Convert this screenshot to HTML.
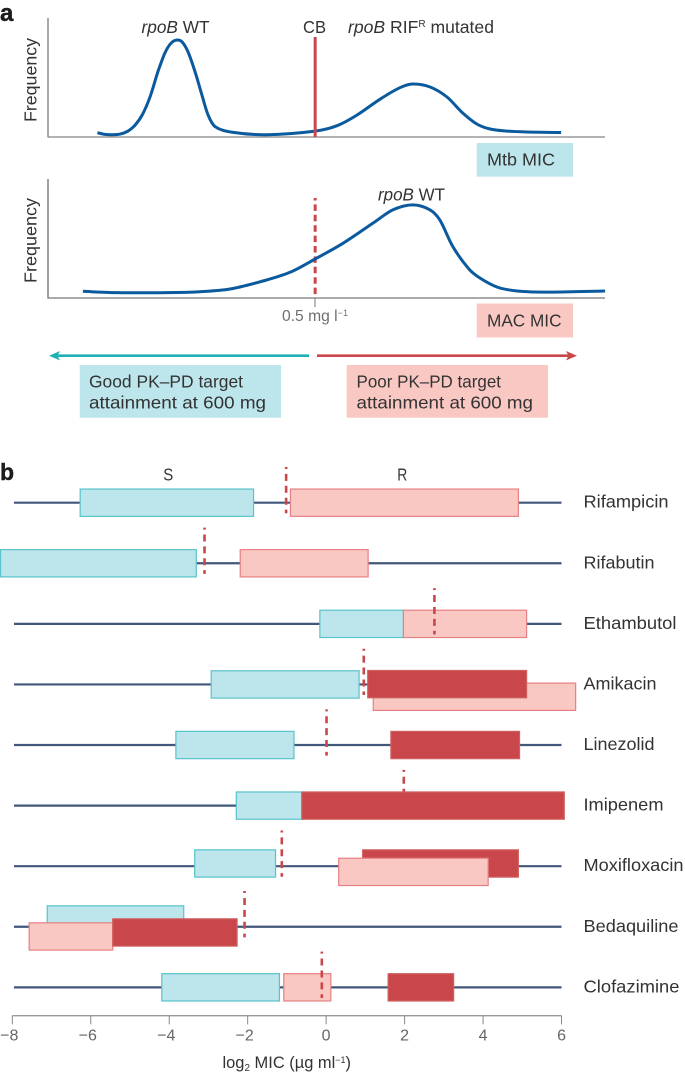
<!DOCTYPE html>
<html lang="en">
<head>
<meta charset="utf-8">
<title>MIC distributions and PK-PD target attainment</title>
<style>
  html, body { margin: 0; padding: 0; background: #fff; }
  svg { display: block; font-family: "Liberation Sans", sans-serif; }
  text { fill: #333; font-size: 17.5px; }
</style>
</head>
<body>
<svg id="chart" width="685" height="1078" viewBox="0 0 685 1078" xmlns="http://www.w3.org/2000/svg">
  <rect width="685" height="1078" fill="#fff"/>

  <text x="0" y="21" style="font-size:24px;font-weight:bold;fill:#1c1c1c;stroke:#1c1c1c;stroke-width:0.4">a</text>
  <text x="0" y="480" style="font-size:23px;font-weight:bold;fill:#1c1c1c;stroke:#1c1c1c;stroke-width:0.4">b</text>

  <g stroke="#858585" fill="none">
    <line x1="48" y1="18" x2="48" y2="137.5" stroke-width="1.4"/>
    <line x1="48" y1="137" x2="605" y2="137" stroke-width="1.2"/>
  </g>
  <g stroke="#777" fill="none">
    <line x1="48" y1="179" x2="48" y2="298.5" stroke-width="1.4"/>
    <line x1="48" y1="298" x2="605" y2="298" stroke-width="1.2"/>
    <line x1="315" y1="298" x2="315" y2="307" stroke-width="1"/>
  </g>

  <text transform="translate(36.5,122) rotate(-90)" textLength="84" lengthAdjust="spacingAndGlyphs">Frequency</text>
  <text transform="translate(36.5,283) rotate(-90)" textLength="85" lengthAdjust="spacingAndGlyphs">Frequency</text>

  <text x="141.5" y="33" textLength="68" lengthAdjust="spacingAndGlyphs"><tspan font-style="italic">rpoB</tspan> WT</text>
  <text x="303" y="33" textLength="23" lengthAdjust="spacingAndGlyphs">CB</text>
  <text x="348" y="33" textLength="146" lengthAdjust="spacingAndGlyphs"><tspan font-style="italic">rpoB</tspan> RIF<tspan dy="-6" style="font-size:10px">R</tspan><tspan dy="6"> mutated</tspan></text>
  <text x="378" y="200.7" textLength="67" lengthAdjust="spacingAndGlyphs"><tspan font-style="italic">rpoB</tspan> WT</text>

  <rect x="476.7" y="143" width="96.3" height="33.7" fill="#bde5ec"/>
  <text x="487" y="165.7" textLength="68" lengthAdjust="spacingAndGlyphs">Mtb MIC</text>
  <rect x="476.7" y="303.5" width="96.3" height="34" fill="#fac8c3"/>
  <text x="487" y="326.7" textLength="74.5" lengthAdjust="spacingAndGlyphs">MAC MIC</text>
  <text x="282" y="321" textLength="66" lengthAdjust="spacingAndGlyphs" style="font-size:15.5px;fill:#6f6f6f">0.5 mg l<tspan dy="-5" style="font-size:9px">−1</tspan></text>

  <g>
    <line x1="309" y1="355.7" x2="56" y2="355.7" stroke="#1fb0b4" stroke-width="2.6"/>
    <polygon points="49,355.7 60,351 57.5,355.7 60,360.4" fill="#1fb0b4"/>
  </g>
  <g>
    <line x1="317" y1="355.7" x2="570" y2="355.7" stroke="#c9474b" stroke-width="2.6"/>
    <polygon points="577,355.7 566,351 568.5,355.7 566,360.4" fill="#c9474b"/>
  </g>

  <rect x="79.7" y="365" width="201.3" height="52.7" fill="#bde5ec"/>
  <text x="89" y="387.7" textLength="154" lengthAdjust="spacingAndGlyphs">Good PK–PD target</text>
  <text x="89" y="408.3" textLength="177" lengthAdjust="spacingAndGlyphs">attainment at 600 mg</text>
  <rect x="346.7" y="365" width="201.3" height="52.7" fill="#fac8c3"/>
  <text x="356.5" y="387.7" textLength="144.5" lengthAdjust="spacingAndGlyphs">Poor PK–PD target</text>
  <text x="356.5" y="408.3" textLength="176.5" lengthAdjust="spacingAndGlyphs">attainment at 600 mg</text>

  <text x="163.3" y="480.7" textLength="10" lengthAdjust="spacingAndGlyphs">S</text>
  <text x="397.3" y="480.7" textLength="10" lengthAdjust="spacingAndGlyphs">R</text>

  <text x="222.5" y="1068" textLength="128.5" lengthAdjust="spacingAndGlyphs" style="font-size:16.5px">log<tspan dy="3" style="font-size:10px">2</tspan><tspan dy="-3"> MIC (µg ml</tspan><tspan dy="-5" style="font-size:9px">−1</tspan><tspan dy="5">)</tspan></text>

  <g id="curves"></g>
  <g id="rows"></g>
  <g id="xaxis"></g>
</svg>

<script>
// Panel a: frequency curves (x in log2 MIC, y in % of axis height)
const mtbMic = [-5.83,-5.64,-5.43,-5.25,-5.05,-4.87,-4.69,-4.49,-4.29,-4.11,-3.95,-3.80,-3.67,-3.52,-3.34,-3.16,-3.01,-2.83,-2.37,-1.51,-0.28,0.28,0.79,1.37,1.88,2.21,2.65,3.08,3.48,3.84,4.18,4.61,5.12,5.99];
const mtbFreq = [3.6,2.2,1.9,2.4,5,10,18.5,33.6,54.6,70.6,79,81.5,79.8,71.4,54.6,34.5,18.5,8.7,3.9,1.9,5,9.5,18.5,31.7,41.4,44.5,42,33.6,20.2,10.9,6.7,5,4.2,3.8];
const macMic = [-6.2,-5.33,-4.06,-3.22,-2.45,-1.61,-0.92,-0.28,0.43,1.19,1.70,2.21,2.65,2.90,3.23,3.64,3.92,4.36,4.87,5.63,7.11];
const macFreq = [5.6,4.5,4.5,5.3,7.6,14.3,21.6,32.8,46,62.8,74,78.2,74,65.5,43.1,24.4,16.8,9.2,5.9,5,5.9];
const mtbBreakpoint = -0.28;
const macBreakpoint = -0.28;

// Panel b: ranges in log2 MIC for each drug
const drugs = ["Rifampicin","Rifabutin","Ethambutol","Amikacin","Linezolid","Imipenem","Moxifloxacin","Bedaquiline","Clofazimine"];
const susceptibleLow = [-6.27,-8.30,-0.16,-2.93,-3.83,-2.29,-3.35,-7.11,-4.19];
const susceptibleHigh = [-1.85,-3.31,1.97,0.84,-0.82,-0.62,-1.29,-3.63,-1.19];
const resistantLow = [-0.91,-2.19,1.97,1.20,null,null,0.32,-7.57,-1.08];
const resistantHigh = [4.90,1.07,5.11,6.36,null,null,4.13,-5.44,0.12];
const clinicalLow = [null,null,null,1.06,1.65,-0.62,0.93,-5.44,1.58];
const clinicalHigh = [null,null,null,5.11,4.93,6.07,4.90,-2.27,3.25];
const breakpoints = [-1.02,-3.10,2.76,0.96,0.01,1.98,-1.13,-2.08,-0.11];
const xTicks = [-8,-6,-4,-2,0,2,4,6];

// Layout (not data)
const NS = "http://www.w3.org/2000/svg";
const x = v => 12.3 + (v + 8) * 39.23;
const yMtb = f => 137 - f * 1.19;
const yMac = f => 298 - f * 1.19;
const rowY = i => 502.7 + i * 60.58;
const labelWidths = {Rifampicin:85,Rifabutin:71,Ethambutol:93,Amikacin:73,Linezolid:71,Imipenem:80,Moxifloxacin:100,Bedaquiline:95,Clofazimine:96};
const nudgeS = {Moxifloxacin:-2.7,Bedaquiline:-7.3};
const nudgeR = {Amikacin:12.3,Moxifloxacin:5.7,Bedaquiline:9.7};
const nudgeC = {Amikacin:-0.3,Moxifloxacin:-2.7,Bedaquiline:5.7};

function svgEl(tag, attrs, parent) {
  const el = document.createElementNS(NS, tag);
  for (const k in attrs) el.setAttribute(k, attrs[k]);
  parent.appendChild(el);
  return el;
}

// Smooth curve through the points, with tangents that respect uneven x spacing
function smoothPath(px, py) {
  const n = px.length;
  const slope = i => {
    const a = Math.max(i - 1, 0), b = Math.min(i + 1, n - 1);
    return (py[b] - py[a]) / (px[b] - px[a]);
  };
  let d = "M" + px[0].toFixed(1) + " " + py[0].toFixed(1);
  for (let i = 0; i < n - 1; i++) {
    const dx = (px[i + 1] - px[i]) / 3;
    const vals = [px[i] + dx, py[i] + slope(i) * dx, px[i + 1] - dx, py[i + 1] - slope(i + 1) * dx, px[i + 1], py[i + 1]];
    d += "C" + vals.map(v => v.toFixed(1)).join(" ");
  }
  return d;
}

const curves = document.getElementById("curves");
const rows = document.getElementById("rows");
const xaxis = document.getElementById("xaxis");

// Panel a marks
const mtbCurve = svgEl("path", {d: smoothPath(mtbMic.map(x), mtbFreq.map(yMtb)), fill: "none", stroke: "#0b5a9e", "stroke-width": 3}, curves);


const cbLine = svgEl("line", {x1: x(mtbBreakpoint), x2: x(mtbBreakpoint), y1: 37, y2: 137, stroke: "#c9474b", "stroke-width": 3}, curves);


const macLine = svgEl("line", {x1: x(macBreakpoint), x2: x(macBreakpoint), y1: 198, y2: 298, stroke: "#c9474b", "stroke-width": 3, "stroke-dasharray": "6.5 3.9", "stroke-dashoffset": 4}, curves);


const macCurve = svgEl("path", {d: smoothPath(macMic.map(x), macFreq.map(yMac)), fill: "none", stroke: "#0b5a9e", "stroke-width": 3}, curves);



// Panel b marks
const BOX_H = 27.3;
function box(lo, hi, cy, fill, stroke, parent) {
  return svgEl("rect", {x: x(lo), y: cy - BOX_H / 2, width: x(hi) - x(lo), height: BOX_H, fill: fill, stroke: stroke, "stroke-width": 1.2}, parent);
}

drugs.forEach((drug, i) => {
  const cy = rowY(i);
  const g = svgEl("g", {}, rows);
  
  

  const range = svgEl("line", {x1: 14, x2: x(6), y1: cy, y2: cy, stroke: "#41587a", "stroke-width": 2.2}, g);
  
  

  const sBox = box(susceptibleLow[i], susceptibleHigh[i], cy + (nudgeS[drug] || 0), "#bde5ec", "#57c3ca", g);
  
  

  const drawResistant = () => {
    if (resistantLow[i] === null) return;
    const rBox = box(resistantLow[i], resistantHigh[i], cy + (nudgeR[drug] || 0), "#fac8c3", "#e58084", g);
    
    
  };
  const lightOnTop = drug === "Moxifloxacin";
  if (!lightOnTop) drawResistant();

  const dash = svgEl("line", {x1: x(breakpoints[i]), x2: x(breakpoints[i]), y1: cy - 35.7, y2: cy + 10.6, stroke: "#c9474b", "stroke-width": 2.6, "stroke-dasharray": "7 4.9", "stroke-dashoffset": 5}, g);
  
  

  if (clinicalLow[i] !== null) {
    const cBox = box(clinicalLow[i], clinicalHigh[i], cy + (nudgeC[drug] || 0), "#c9474b", "#d0605f", g);
    
    
  }
  if (lightOnTop) drawResistant();

  const label = svgEl("text", {x: 583.5, y: cy + 5, textLength: labelWidths[drug], lengthAdjust: "spacingAndGlyphs"}, g);
  
  
  label.textContent = drug;
});

// x axis
const axisLine = svgEl("line", {x1: x(-8), x2: x(6), y1: 1015.7, y2: 1015.7, stroke: "#999", "stroke-width": 1.3}, xaxis);


xTicks.forEach(t => {
  const tick = svgEl("line", {x1: x(t), x2: x(t), y1: 1015.7, y2: 1024.3, stroke: "#888", "stroke-width": 1}, xaxis);
  
  
  const lab = svgEl("text", {x: x(t) - (t < 0 ? 3 : 0), y: 1040.7, "text-anchor": "middle", style: "font-size:16px;fill:#666"}, xaxis);
  
  
  lab.textContent = (t < 0 ? "−" : "") + Math.abs(t);
});
</script>
</body>
</html>
